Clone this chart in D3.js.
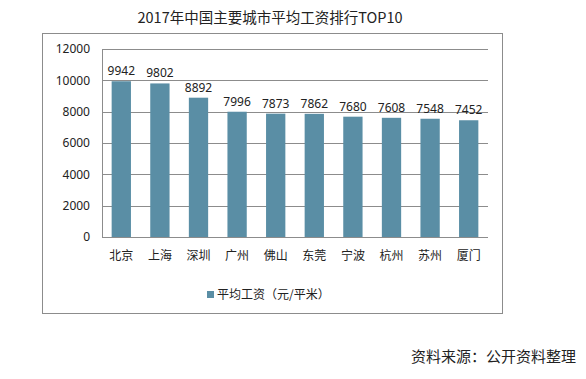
<!DOCTYPE html>
<html>
<head>
<meta charset="utf-8">
<script src="https://cdn.jsdelivr.net/npm/d3@7"></script>
<style>
  body { margin: 0; background: #fff; }
  text { font-family: "Noto Sans CJK SC", "Noto Sans", sans-serif; }
</style>
</head>
<body>
<div id="chart"></div>
<script>
// data
var cities = ["北京", "上海", "深圳", "广州", "佛山", "东莞", "宁波", "杭州", "苏州", "厦门"];
var wages = [9942, 9802, 8892, 7996, 7873, 7862, 7680, 7608, 7548, 7452];
var yTicks = [0, 2000, 4000, 6000, 8000, 10000, 12000];

var W = 586, H = 379;
var svg = d3.select("#chart").append("svg")
  .attr("width", W).attr("height", H);

// title
svg.append("text")
  .attr("x", 270).attr("y", 23)
  .attr("text-anchor", "middle")
  .style("font-size", "14.5px")
  .attr("fill", "#222")
  .text("2017年中国主要城市平均工资排行TOP10");

// outer frame
svg.append("rect")
  .attr("x", 42.5).attr("y", 33.5)
  .attr("width", 460).attr("height", 280)
  .attr("fill", "none").attr("stroke", "#8c8c8c");

var plotL = 102, plotR = 488, plotT = 49, plotB = 237;

var x = d3.scaleBand().domain(cities).range([plotL, plotR]).paddingInner(0.5).paddingOuter(0.25);
var y = d3.scaleLinear().domain([0, 12000]).range([plotB, plotT]);

// grid
svg.append("g").selectAll("line")
  .data(yTicks).enter().append("line")
  .attr("x1", plotL).attr("x2", plotR)
  .attr("y1", d => Math.round(y(d)) + 0.5)
  .attr("y2", d => Math.round(y(d)) + 0.5)
  .attr("stroke", "#8c8c8c");

svg.append("line")
  .attr("x1", plotL + 0.5).attr("x2", plotL + 0.5)
  .attr("y1", plotT).attr("y2", plotB)
  .attr("stroke", "#8c8c8c");

// y axis
var yAxis = svg.append("g")
  .attr("transform", "translate(" + plotL + ",0)")
  .call(d3.axisLeft(y).tickValues(yTicks).tickSize(0).tickPadding(12).tickFormat(d3.format("d")));
yAxis.select(".domain").remove();
yAxis.selectAll("text").style("font-size", "12px").attr("fill", "#222")
  .style("font-family", "'Noto Sans', sans-serif");

// x axis
var xAxis = svg.append("g")
  .attr("transform", "translate(0," + plotB + ")")
  .call(d3.axisBottom(x).tickSize(0).tickPadding(14));
xAxis.select(".domain").remove();
xAxis.selectAll("text").style("font-size", "12px").attr("fill", "#222");

// bars
svg.selectAll(".bar")
  .data(wages).enter().append("rect")
  .attr("class", "bar")
  .attr("x", (d, i) => x(cities[i]))
  .attr("width", x.bandwidth())
  .attr("y", d => y(d))
  .attr("height", d => plotB - y(d))
  .attr("fill", "#5a8ea5");

// value labels
svg.selectAll(".lbl")
  .data(wages).enter().append("text")
  .attr("class", "lbl")
  .attr("x", (d, i) => x(cities[i]) + x.bandwidth() / 2)
  .attr("y", d => y(d) - 6)
  .attr("text-anchor", "middle")
  .style("font-size", "12px")
  .style("font-family", "'Noto Sans', sans-serif")
  .attr("fill", "#222")
  .text(d => d);

// legend
svg.append("rect")
  .attr("x", 207).attr("y", 291).attr("width", 7).attr("height", 7)
  .attr("fill", "#5a8ea5");
svg.append("text")
  .attr("x", 217).attr("y", 299)
  .style("font-size", "12px").attr("fill", "#222")
  .text("平均工资（元/平米）");

// source
svg.append("text")
  .attr("x", 576).attr("y", 362)
  .attr("text-anchor", "end")
  .style("font-size", "15px").attr("fill", "#222")
  .text("资料来源：公开资料整理");
</script>
</body>
</html>
